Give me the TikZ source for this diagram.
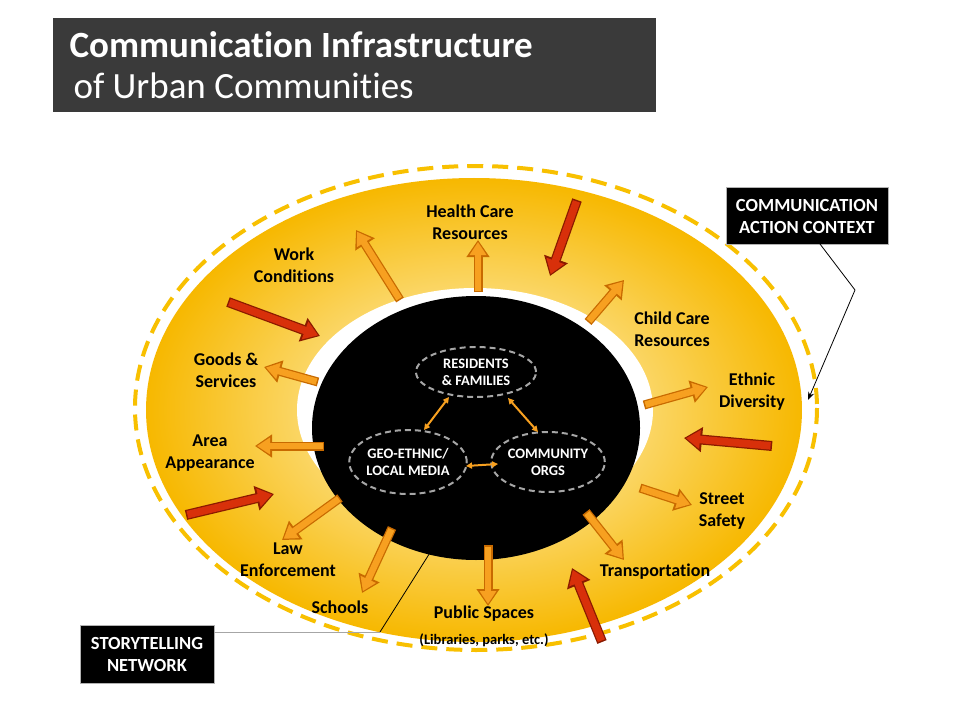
\documentclass[tikz,border=0pt]{standalone}
\usepackage{fontspec}
\setmainfont[RawFeature=-liga]{Carlito}
\usetikzlibrary{arrows.meta,shapes.geometric}
\definecolor{gold}{HTML}{F7B800}
\definecolor{lgold}{HTML}{FFF8D8}
\definecolor{dgold}{HTML}{F8C000}
\definecolor{orangeA}{HTML}{F7A020}
\definecolor{orangeO}{HTML}{C86A00}
\definecolor{redA}{HTML}{D8300A}
\definecolor{redO}{HTML}{8A1A00}
\definecolor{titlebg}{HTML}{3A3A3A}
\begin{document}
\begin{tikzpicture}[x=1pt,y=-1pt,
  lab/.style={font=\bfseries\fontsize{18}{22}\selectfont, align=center, text=black},
  inlab/.style={font=\bfseries\fontsize{14.5}{17}\selectfont, align=center, text=white},
  inell/.style={draw=gray!70, dash pattern=on 6pt off 4pt, line width=2pt, ellipse, inner sep=0pt},
  box/.style={fill=black, draw=gray!60, line width=1pt, text=white, font=\bfseries\fontsize{18.5}{22}\selectfont, align=center, inner sep=5pt},
  oarr/.style={line width=9pt, draw=orangeO, -{Triangle[length=17pt,width=22pt]}},
  oarrin/.style={line width=6.5pt, draw=orangeA, -{Triangle[length=13pt,width=16pt]}, shorten >=2pt, shorten <=1.5pt},
  rarr/.style={line width=10pt, draw=redO, -{Triangle[length=18pt,width=24pt]}},
  rarrin/.style={line width=7.5pt, draw=redA, -{Triangle[length=14pt,width=18pt]}, shorten >=2pt, shorten <=1.5pt},
  dbl/.style={draw=orangeA, line width=2pt, {Triangle[length=6pt,width=6pt]}-{Triangle[length=6pt,width=6pt]}}
]
\useasboundingbox (0,0) rectangle (953,714);
\fill[white] (0,0) rectangle (953,714);
% title
\node[fill=titlebg, minimum width=603pt, minimum height=94pt, inner sep=0pt, anchor=north west] (title) at (53,18) {};
\node[anchor=west, text=white, font=\bfseries\fontsize{37}{40}\selectfont] (t1) at (66,45) {Communication Infrastructure};
\node[anchor=west, text=white, font=\fontsize{37}{40}\selectfont] (t2) at (70,86) {of Urban Communities};
% ellipses
\shade[inner color=lgold, outer color=gold] (474,410) ellipse [x radius=328, y radius=232];
\draw[dgold, line width=4pt, dash pattern=on 16pt off 9pt] (476,408) ellipse [x radius=341, y radius=242];
\fill[white] (475,410) ellipse [x radius=178, y radius=122];
\fill[black] (476,428) ellipse [x radius=164, y radius=132];
% inner
\node[inell, minimum width=120pt, minimum height=50pt, inlab] (res) at (476,372) {RESIDENTS\\\& FAMILIES};
\node[inell, minimum width=112pt, minimum height=64pt, inlab] (geo) at (408,462) {GEO-ETHNIC/\\LOCAL MEDIA};
\node[inell, minimum width=104pt, minimum height=60pt, inlab] (org) at (548,462) {COMMUNITY\\ORGS};
\draw[dbl] (424,430) -- (449,397);
\draw[dbl] (508,398) -- (538,432);
\draw[dbl] (466,466) -- (498,464);
% outward orange arrows
\foreach \n/\xa/\ya/\xb/\yb in {a1/400/300/356/230, a2/478/292/478/240, a3/588/322/624/280,
  a4/318/382/264/367, a5/324/446/255/446, a6/644/405/708/387,
  a7/340/498/282/540, a8/392/528/362/593, a9/488/545/488/606,
  a10/586/512/624/560, a11/640/488/692/505}{
  \coordinate (\n-s) at (\xa,\ya); \coordinate (\n-e) at (\xb,\yb);
  \draw[oarr] (\n-s) -- (\n-e);
  \draw[oarrin] (\n-s) -- (\n-e);
}
% inward red arrows
\foreach \n/\xa/\ya/\xb/\yb in {r1/577/200/550/276, r2/228/302/320/336, r3/772/446/684/438,
  r4/186/515/274/494, r5/602/642/572/568}{
  \coordinate (\n-s) at (\xa,\ya); \coordinate (\n-e) at (\xb,\yb);
  \draw[rarr] (\n-s) -- (\n-e);
  \draw[rarrin] (\n-s) -- (\n-e);
}
% labels
\node[lab] (l1) at (470,222) {Health Care\\Resources};
\node[lab] (l2) at (294,265) {Work\\Conditions};
\node[lab] (l3) at (672,329) {Child Care\\Resources};
\node[lab] (l4) at (226,370) {Goods \&\\Services};
\node[lab] (l5) at (752,392) {Ethnic\\Diversity};
\node[lab] (l6) at (210,453) {Area\\Appearance};
\node[lab] (l7) at (722,511) {Street\\Safety};
\node[lab] (l8) at (288,560) {Law\\Enforcement};
\node[lab] (l9) at (340,607) {Schools};
\node[lab] (l10) at (484,614) {Public Spaces};
\node[lab, font=\bfseries\fontsize{14.5}{17}\selectfont] (l11) at (484,640) {(Libraries, parks, etc.)};
\node[lab] (l12) at (655,572) {Transportation};
% boxes
\node[box, minimum width=162pt, minimum height=56pt] (cac) at (807,216) {COMMUNICATION\\ACTION CONTEXT};
\node[box, minimum width=134pt, minimum height=58pt] (stn) at (147,654) {STORYTELLING\\NETWORK};
\coordinate (c0) at (820,244);
\coordinate (c1) at (855,290);
\coordinate (c2) at (808,400);
\draw[line width=0.8pt, -{Stealth[length=8pt]}] (c0) -- (c1) -- (c2);
\coordinate (s0) at (214,632);
\coordinate (s1) at (380,632);
\coordinate (s2) at (438,540);
\draw[gray!70, line width=0.8pt] (s0) -- (s1);
\draw[line width=0.8pt, -{Stealth[length=8pt]}] (s1) -- (s2);
\end{tikzpicture}
\end{document}
